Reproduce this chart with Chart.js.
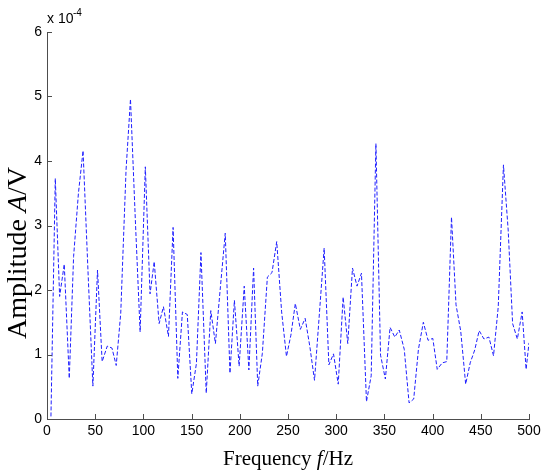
<!DOCTYPE html>
<html>
<head>
<meta charset="utf-8">
<script src="https://cdn.jsdelivr.net/npm/chart.js@4/dist/chart.umd.min.js"></script>
<style>
  html, body { margin: 0; padding: 0; background: #fff; }
  canvas { display: block; }
</style>
</head>
<body>
<canvas id="spectrum" width="550" height="470"></canvas>
<script>
/* ---------- DATA (amplitude in units of 1e-4 V) ---------- */
const freqHz = [
  4.1, 8.6, 13.1, 17.9, 23.1, 27.6, 32.6, 37.4, 42.5, 47.6,
  52.4, 57.2, 62.5, 67.4, 71.8, 76.5, 82.0, 86.6, 91.6, 96.6,
  102.0, 106.9, 111.2, 116.3, 120.8, 126.0, 130.8, 135.7, 140.5, 145.5,
  150.2, 155.0, 159.7, 165.2, 169.9, 174.7, 179.9, 184.9, 189.8, 194.4,
  199.3, 204.6, 209.4, 214.3, 218.6, 223.4, 228.6, 233.4, 238.3, 243.4,
  248.4, 253.0, 257.6, 262.8, 267.8, 272.7, 277.5, 282.6, 287.5, 292.4,
  297.2, 302.1, 307.2, 312.0, 316.9, 321.6, 326.2, 331.4, 336.3, 341.2,
  346.0, 351.0, 355.9, 360.8, 365.4, 370.6, 375.6, 380.4, 385.3, 390.4,
  395.3, 400.2, 404.8, 410.0, 414.7, 419.6, 424.3, 429.2, 434.3, 439.0,
  443.7, 448.3, 453.3, 458.4, 463.2, 468.1, 473.5, 478.4, 483.0, 487.9,
  492.9, 497.0, 500.0
];
const amplitudeE4 = [
  0.04, 3.73, 1.90, 2.40, 0.63, 2.52, 3.50, 4.16, 2.30, 0.51,
  2.31, 0.89, 1.13, 1.10, 0.83, 1.64, 3.86, 4.96, 3.10, 1.35,
  3.91, 1.94, 2.44, 1.48, 1.74, 1.28, 2.97, 0.63, 1.66, 1.62,
  0.39, 0.86, 2.58, 0.40, 1.68, 1.17, 2.05, 2.88, 0.71, 1.84,
  0.82, 2.06, 0.76, 2.34, 0.51, 1.02, 2.20, 2.27, 2.75, 1.66,
  0.97, 1.30, 1.79, 1.39, 1.56, 1.12, 0.60, 1.64, 2.65, 0.84,
  1.01, 0.54, 1.89, 1.17, 2.34, 2.06, 2.26, 0.27, 0.67, 4.27,
  0.99, 0.62, 1.42, 1.27, 1.38, 1.08, 0.25, 0.31, 1.08, 1.50,
  1.22, 1.25, 0.77, 0.87, 0.89, 3.13, 1.77, 1.36, 0.54, 0.87,
  1.07, 1.37, 1.24, 1.27, 0.98, 1.74, 3.94, 2.93, 1.48, 1.24,
  1.66, 0.77, 1.18
];
const xTicks = [0, 50, 100, 150, 200, 250, 300, 350, 400, 450, 500];
const yTicks = [0, 1, 2, 3, 4, 5, 6];

const AXIS_COLOR = '#4d4d4d';
const TICK_FONT = { family: 'Liberation Sans, Arial, sans-serif', size: 14 };

/* ---------- MATLAB-style decorations: inward ticks, labels, exponent ---------- */
const matlabAxes = {
  id: 'matlabAxes',
  afterDraw(chart) {
    const { ctx, chartArea: a, scales: { x, y } } = chart;
    ctx.save();
    ctx.strokeStyle = AXIS_COLOR;
    ctx.lineWidth = 1;
    ctx.beginPath();
    xTicks.forEach(v => {
      const px = Math.round(x.getPixelForValue(v)) + 0.5;
      ctx.moveTo(px, a.bottom);
      ctx.lineTo(px, a.bottom - 5);
    });
    yTicks.forEach(v => {
      const py = Math.round(y.getPixelForValue(v)) + 0.5;
      ctx.moveTo(a.left, py);
      ctx.lineTo(a.left + 5, py);
    });
    ctx.stroke();

    ctx.fillStyle = '#000';
    ctx.textBaseline = 'alphabetic';

    // x label: Frequency f/Hz
    const serif = 'Liberation Serif, "Times New Roman", serif';
    const xParts = [['Frequency ', ''], ['f', 'italic '], ['/Hz', '']];
    drawParts(ctx, xParts, 21, serif, (a.left + a.right) / 2, 465);

    // y label: Amplitude A/V (rotated)
    ctx.save();
    ctx.translate(26, 253);
    ctx.rotate(-Math.PI / 2);
    drawParts(ctx, [['Amplitude ', ''], ['A', 'italic '], ['/V', '']], 28, serif, 0, 0);
    ctx.restore();

    // exponent marker
    ctx.font = '14px Liberation Sans, Arial, sans-serif';
    ctx.textAlign = 'left';
    ctx.fillText('x 10', a.left, 23);
    ctx.font = '10px Liberation Sans, Arial, sans-serif';
    ctx.fillText('-4', a.left + 26, 16);
    ctx.restore();
  }
};

function drawParts(ctx, parts, size, family, cx, baseline) {
  let total = 0;
  parts.forEach(([t, st]) => { ctx.font = st + size + 'px ' + family; total += ctx.measureText(t).width; });
  let px = cx - total / 2;
  ctx.textAlign = 'left';
  parts.forEach(([t, st]) => {
    ctx.font = st + size + 'px ' + family;
    ctx.fillText(t, px, baseline);
    px += ctx.measureText(t).width;
  });
}

/* ---------- CHART ---------- */
new Chart(document.getElementById('spectrum'), {
  type: 'line',
  data: {
    datasets: [{
      data: freqHz.map((f, i) => ({ x: f, y: amplitudeE4[i] })),
      borderColor: '#1f1fff',
      borderWidth: 1,
      borderDash: [4, 2],
      pointRadius: 0,
      tension: 0,
      fill: false
    }]
  },
  options: {
    responsive: false,
    animation: false,
    layout: { padding: { top: 32, right: 21, left: 0, bottom: 0 } },
    plugins: { legend: { display: false }, tooltip: { enabled: false } },
    scales: {
      x: {
        type: 'linear', min: 0, max: 500,
        afterBuildTicks: s => { s.ticks = xTicks.map(v => ({ value: v })); },
        afterFit: s => { s.height = 51; },
        ticks: { font: TICK_FONT, color: '#000', padding: 4, maxRotation: 0 },
        grid: { display: true, drawOnChartArea: false, drawTicks: false },
        border: { display: true, color: AXIS_COLOR, width: 1 }
      },
      y: {
        type: 'linear', min: 0, max: 6,
        afterBuildTicks: s => { s.ticks = yTicks.map(v => ({ value: v })); },
        afterFit: s => { s.width = 47; },
        ticks: { font: TICK_FONT, color: '#000', padding: 5 },
        grid: { display: true, drawOnChartArea: false, drawTicks: false },
        border: { display: true, color: AXIS_COLOR, width: 1 }
      }
    }
  },
  plugins: [matlabAxes]
});
</script>
</body>
</html>
